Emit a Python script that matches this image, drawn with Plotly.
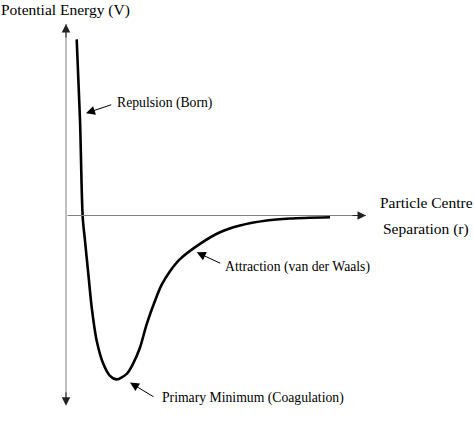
import plotly.graph_objects as go

# Potential energy curve (arbitrary units; r = separation, V = energy)
r_vals = [0.357, 0.467, 0.557, 0.633, 0.743, 0.857, 1.023, 1.243, 1.467, 1.69, 2.023,
          2.217, 2.467, 2.69, 2.967, 3.19, 3.467, 3.8, 4.467, 5.133, 5.8, 6.69, 7.467, 8.8]
V_vals = [5.857, 3.167, -0.057, -0.833, -1.933, -3.057, -4.167, -4.933, -5.333, -5.45, -5.267,
          -4.967, -4.39, -3.61, -2.833, -2.3, -1.85, -1.45, -0.943, -0.557, -0.333, -0.167, -0.1, -0.057]

# axis extents
r_axis_end = 10.0
V_axis_top = 6.37
V_axis_bottom = -6.33

y_title = "Potential Energy (V)"
x_title_lines = ["Particle Centre", "Separation (r)"]
labels = ["Repulsion (Born)", "Attraction (van der Waals)", "Primary Minimum (Coagulation)"]
label_pos = [(1.63, 3.733), (5.23, -1.723), (3.12, -6.057)]
arrow_tails = [(1.557, 3.7), (5.19, -1.61), (2.967, -6.057)]
arrow_tips = [(0.667, 3.4), (4.357, -1.223), (2.133, -5.557)]

FONT = "Liberation Serif, Times New Roman, serif"
AXIS_COLOR = "#808080"

fig = go.Figure()
fig.add_trace(go.Scatter(x=r_vals, y=V_vals, mode="lines",
                         line=dict(color="black", width=2.6, shape="spline", smoothing=0.8),
                         hoverinfo="skip", showlegend=False))

ann = []


def arrow(x0, y0, x1, y1, color, width, size, head=2):
    return dict(x=x1, y=y1, ax=x0, ay=y0, xref="x", yref="y", axref="x", ayref="y",
                text="", showarrow=True, arrowhead=head, arrowsize=size,
                arrowwidth=width, arrowcolor=color, standoff=0, startstandoff=0)


# axes: gray lines with dark arrowheads
ann.append(arrow(0, 0, r_axis_end, 0, AXIS_COLOR, 1, 1, head=0))
ann.append(arrow(0, V_axis_bottom, 0, V_axis_top, AXIS_COLOR, 1, 1, head=0))
ann.append(arrow(r_axis_end - 0.5, 0, r_axis_end, 0, "#222222", 1, 1.7))
ann.append(arrow(0, V_axis_top - 0.5, 0, V_axis_top, "#222222", 1, 1.7))
ann.append(arrow(0, V_axis_bottom + 0.5, 0, V_axis_bottom, "#222222", 1, 1.7))

# label arrows
for (tx, ty), (hx, hy) in zip(arrow_tails, arrow_tips):
    ann.append(arrow(tx, ty, hx, hy, "black", 1, 1.8))

for txt, (lx, ly) in zip(labels, label_pos):
    ann.append(dict(x=lx, y=ly, xref="x", yref="y", text=txt, showarrow=False,
                    xanchor="left", yanchor="middle",
                    font=dict(family=FONT, size=13.7, color="black")))

ann.append(dict(x=0, y=1, xref="paper", yref="paper", text=y_title, showarrow=False,
                xanchor="left", yanchor="top", borderpad=0,
                font=dict(family=FONT, size=15.5, color="black")))
ann.append(dict(x=10.4, y=0.443, xref="x", yref="y", text=x_title_lines[0], showarrow=False,
                xanchor="left", yanchor="middle",
                font=dict(family=FONT, size=15.5, color="black")))
ann.append(dict(x=10.5, y=-0.433, xref="x", yref="y", text=x_title_lines[1], showarrow=False,
                xanchor="left", yanchor="middle",
                font=dict(family=FONT, size=15.5, color="black")))

fig.update_layout(
    width=474, height=423,
    margin=dict(l=0, r=0, t=0, b=0),
    paper_bgcolor="white", plot_bgcolor="white",
    xaxis=dict(range=[-2.2, 13.6], visible=False, fixedrange=True),
    yaxis=dict(range=[-6.9, 7.1667], visible=False, fixedrange=True),
    annotations=ann,
    showlegend=False,
)

fig.write_html("out.html")
